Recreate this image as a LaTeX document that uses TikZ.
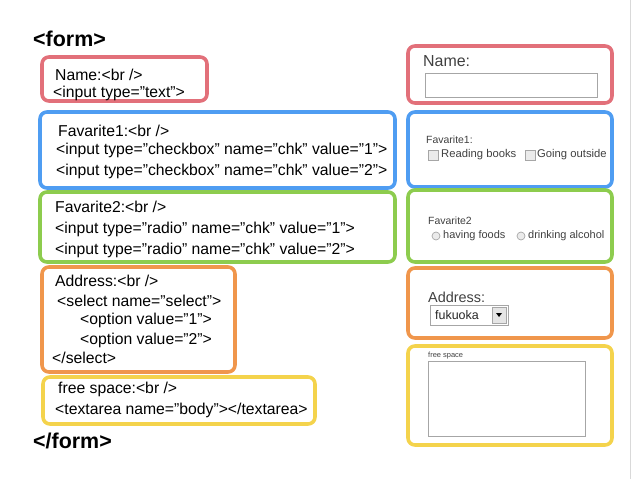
\documentclass[tikz,border=0pt]{standalone}
\usepackage{fontspec}
\setmainfont{Liberation Sans}
\definecolor{fred}{HTML}{E2707A}
\definecolor{fblue}{HTML}{4F9DF2}
\definecolor{fgreen}{HTML}{8DCC4E}
\definecolor{forange}{HTML}{F0964C}
\definecolor{fyellow}{HTML}{F4D34C}
\tikzset{
  frame/.style={line width=3.6pt, rounded corners=7pt},
  code/.style={anchor=west, inner sep=0pt, font=\fontsize{15.8}{18}\selectfont},
  tag/.style={anchor=west, inner sep=0pt, font=\bfseries\fontsize{21.5}{24}\selectfont},
  ui/.style={anchor=west, inner sep=0pt, text=black!75},
  field/.style={draw=black!35, fill=white, line width=0.7pt},
}
\begin{document}
\begin{tikzpicture}[x=1bp, y=-1bp]
    \useasboundingbox (0,0) rectangle (638,479);

    % left frames
    \draw[frame, fred] (42,57) rectangle (207,101);
    \draw[frame, fblue] (40,112) rectangle (395,188);
    \draw[frame, fgreen] (40,192) rectangle (395,262);
    \draw[frame, forange] (42,267) rectangle (235,372);
    \draw[frame, fyellow] (43,377) rectangle (315,424);

    % right frames
    \draw[frame, fred] (408,46) rectangle (612,103);
    \draw[frame, fblue] (408,112) rectangle (612,187);
    \draw[frame, fgreen] (408,190) rectangle (612,262);
    \draw[frame, forange] (408,268) rectangle (612,338);
    \draw[frame, fyellow] (408,346) rectangle (612,445);

    \draw[black!15, line width=0.6pt] (630,0) -- (630,479);

    % source code
    \node[tag] (formopen) at (33,39) {<form>};
    \node[code] (name1) at (55,75) {Name:<br />};
    \node[code] (name2) at (53,93) {<input type="text">};
    \node[code] (fav1a) at (58,131) {Favarite1:<br />};
    \node[code] (fav1b) at (56,150) {<input type="checkbox" name="chk" value="1">};
    \node[code] (fav1c) at (56,171) {<input type="checkbox" name="chk" value="2">};
    \node[code] (fav2a) at (55,207) {Favarite2:<br />};
    \node[code] (fav2b) at (55,229) {<input type="radio" name="chk" value="1">};
    \node[code] (fav2c) at (55,250) {<input type="radio" name="chk" value="2">};
    \node[code] (adr1) at (55,281) {Address:<br />};
    \node[code] (adr2) at (57,301) {<select name="select">};
    \node[code] (adr3) at (80,320) {<option value="1">};
    \node[code] (adr4) at (80,340) {<option value="2">};
    \node[code] (adr5) at (52,358) {</select>};
    \node[code] (free1) at (58,389) {free space:<br />};
    \node[code] (free2) at (55,410) {<textarea name="body"></textarea>};
    \node[tag] (formclose) at (33,441) {</form>};

    % rendered form
    \node[ui, font=\fontsize{16}{18}\selectfont] (uname) at (423,61) {Name:};
    \draw[field] (425,73) rectangle (597,97);

    \node[ui, font=\fontsize{10.5}{12}\selectfont] (ufav1) at (426,140) {Favarite1:};
    \draw[field, fill=black!8] (428,150) rectangle (438,160);
    \node[ui, font=\fontsize{11.3}{13}\selectfont] (uread) at (441,155) {Reading books};
    \draw[field, fill=black!8] (525,150) rectangle (535,160);
    \node[ui, font=\fontsize{11.3}{13}\selectfont] (ugo) at (537,155) {Going outside};

    \node[ui, font=\fontsize{10.5}{12}\selectfont] (ufav2) at (428,221) {Favarite2};
    \draw[field, fill=black!8] (436,236) circle (4);
    \node[ui, font=\fontsize{11}{13}\selectfont] (ufood) at (443,236) {having foods};
    \draw[field, fill=black!8] (521,236) circle (4);
    \node[ui, font=\fontsize{11}{13}\selectfont] (udrink) at (528,236) {drinking alcohol};

    \node[ui, font=\fontsize{14.5}{16}\selectfont] (uadr) at (428,297) {Address:};
    \draw[field] (430,305) rectangle (508,325);
    \node[ui, font=\fontsize{12.5}{14}\selectfont, text=black!85] (ufuk) at (435,315) {fukuoka};
    \draw[field, fill=black!10] (492,307) rectangle (506,323);
    \fill[black] (496,313) -- (502,313) -- (499,317) -- cycle;

    \node[ui, font=\fontsize{7.5}{9}\selectfont] (ufree) at (428,356) {free space};
    \draw[field] (428,361) rectangle (585,436);
\end{tikzpicture}
\end{document}
